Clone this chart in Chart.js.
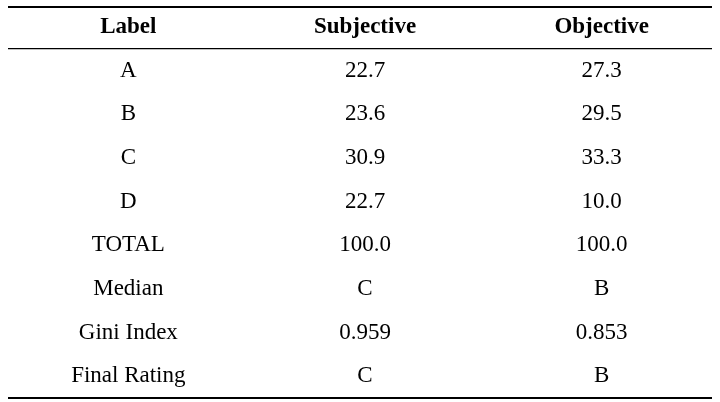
<!DOCTYPE html>
<html>
<head>
<meta charset="utf-8">
<script src="https://cdn.jsdelivr.net/npm/chart.js@4"></script>
<style>
  html, body { margin: 0; padding: 0; background: #fff; }
  #wrap { width: 720px; height: 402px; }
</style>
</head>
<body>
<div id="wrap"><canvas id="tbl"></canvas></div>
<script>
const columns = ["Label", "Subjective", "Objective"];
const labels = ["A", "B", "C", "D", "TOTAL", "Median", "Gini Index", "Final Rating"];
const subjective = ["22.7", "23.6", "30.9", "22.7", "100.0", "C", "0.959", "C"];
const objective = ["27.3", "29.5", "33.3", "10.0", "100.0", "B", "0.853", "B"];

const rows = ["header"].concat(labels);

// draws the table cells at the scale positions
const tablePlugin = {
  id: "tablePlugin",
  afterDraw(chart) {
    const ctx = chart.ctx;
    const x = chart.scales.x;
    const y = chart.scales.y;
    const area = chart.chartArea;
    ctx.save();
    ctx.fillStyle = "#000";
    ctx.textAlign = "center";
    ctx.textBaseline = "middle";

    ctx.font = "bold 23px 'Liberation Serif', 'DejaVu Serif', serif";
    columns.forEach((c, i) => ctx.fillText(c, x.getPixelForValue(i), y.getPixelForValue(0)));

    ctx.font = "23px 'Liberation Serif', 'DejaVu Serif', serif";
    labels.forEach((l, j) => {
      const py = y.getPixelForValue(j + 1);
      ctx.fillText(l, x.getPixelForValue(0), py);
      ctx.fillText(subjective[j], x.getPixelForValue(1), py);
      ctx.fillText(objective[j], x.getPixelForValue(2), py);
    });

    // rules
    ctx.strokeStyle = "#000";
    const half = (y.getPixelForValue(1) - y.getPixelForValue(0)) / 2;
    ctx.lineWidth = 2;
    ctx.beginPath();
    ctx.moveTo(8, area.top + 2); ctx.lineTo(712, area.top + 2);
    ctx.stroke();
    ctx.lineWidth = 1.2;
    ctx.beginPath();
    ctx.moveTo(8, y.getPixelForValue(0) + half); ctx.lineTo(712, y.getPixelForValue(0) + half);
    ctx.stroke();
    ctx.lineWidth = 2;
    ctx.beginPath();
    ctx.moveTo(8, area.bottom); ctx.lineTo(712, area.bottom);
    ctx.stroke();
    ctx.restore();
  }
};

new Chart(document.getElementById("tbl"), {
  type: "bar",
  data: { labels: columns, datasets: [] },
  options: {
    responsive: true,
    maintainAspectRatio: false,
    animation: false,
    layout: { padding: { left: 10, right: 0, top: 5, bottom: 4 } },
    plugins: { legend: { display: false }, tooltip: { enabled: false } },
    scales: {
      x: { type: "category", labels: columns, offset: true, display: false },
      y: { type: "category", labels: rows, offset: true, display: false }
    }
  },
  plugins: [tablePlugin]
});
</script>
</body>
</html>
